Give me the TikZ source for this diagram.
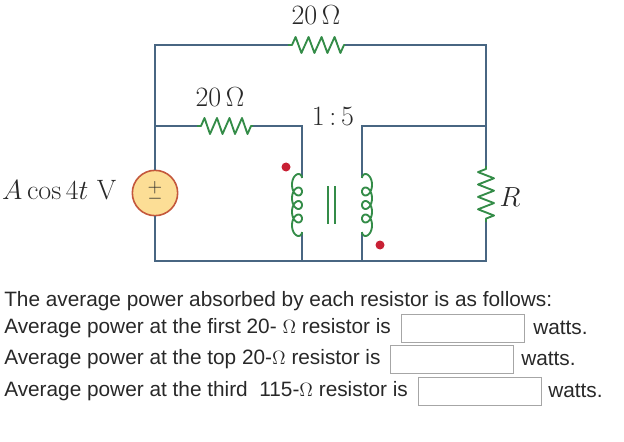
\documentclass[tikz,border=0pt]{standalone}
\usepackage{fontspec}
\setsansfont{Liberation Sans}
\usetikzlibrary{positioning}
\definecolor{wire}{RGB}{72,102,130}
\definecolor{res}{RGB}{52,140,72}
\definecolor{srcfill}{RGB}{252,222,150}
\definecolor{srcdraw}{RGB}{196,88,60}
\definecolor{dotred}{RGB}{200,32,52}
\definecolor{txt}{RGB}{40,40,40}
\tikzset{
  wire/.style={draw=wire, line width=1pt},
  resistor/.style={draw=res, line width=1.4pt, line join=round},
  coil/.style={draw=res, line width=1.4pt},
  lbl/.style={font=\fontsize{21}{21}\selectfont, text=txt},
  question/.style={font=\sffamily\fontsize{15.6}{17}\selectfont, text=txt, anchor=west, inner sep=0pt},
  answer/.style={draw=black!35, line width=0.6pt, minimum width=92pt, minimum height=21pt, inner sep=0pt},
}
\begin{document}
\begin{tikzpicture}[x=0.75pt, y=-0.75pt]
  \useasboundingbox (0,0) rectangle (624,442);
  % Corners of the circuit
  \coordinate (tl) at (155,45);
  \coordinate (tr) at (486,45);
  \coordinate (ml) at (155,126);
  \coordinate (mr) at (486,126);
  \coordinate (bl) at (155,261);
  \coordinate (br) at (486,261);
  \coordinate (r1a) at (197,126);
  \coordinate (r1b) at (253,126);
  \coordinate (r2a) at (288,45);
  \coordinate (r2b) at (345,45);
  \coordinate (ra) at (486,166);
  \coordinate (rb) at (486,222);
  \coordinate (pt) at (302,126);
  \coordinate (pa) at (302,178);
  \coordinate (pb) at (302,232);
  \coordinate (pd) at (302,261);
  \coordinate (st) at (362,126);
  \coordinate (sa) at (362,178);
  \coordinate (sb) at (362,232);
  \coordinate (sd) at (362,261);
  % Source
  \node[circle, draw=srcdraw, fill=srcfill, line width=1.2pt, minimum size=34pt, inner sep=0pt,
        font=\fontsize{15}{9}\selectfont, text=txt, align=center] (src) at (155,193) {$+$\\[-2pt]$-$};

  % Wires
  \draw[wire] (src) -- (tl) -- (r2a);
  \draw[wire] (r2b) -- (tr) -- (ra);
  \draw[wire] (rb) -- (br) -- (bl) -- (src);
  \draw[wire] (ml) -- (r1a);
  \draw[wire] (r1b) -- (pt) -- (pa);
  \draw[wire] (pb) -- (pd);
  \draw[wire] (mr) -- (st) -- (sa);
  \draw[wire] (sb) -- (sd);

  % Resistors
  \draw[resistor] (r1a) -- ++(4,0) \foreach \i in {1,...,4} {-- ++(3.5,-8) -- ++(5.5,16) -- ++(3.5,-8)} -- (r1b);
  \draw[resistor] (r2a) -- ++(4,0) \foreach \i in {1,...,4} {-- ++(3.6,-8) -- ++(5.8,16) -- ++(3.6,-8)} -- (r2b);
  \draw[resistor] (ra) -- ++(0,3) \foreach \i in {1,...,4} {-- ++(-8,3.1) -- ++(16,6.2) -- ++(-8,3.1)} -- (rb);

  % Transformer
  \draw[coil] plot[domain=0:1440, samples=200, smooth] ({302-5*(1-cos(\x))}, {178+\x/360*13.5-7*sin(\x)});
  \draw[coil] plot[domain=0:1440, samples=200, smooth] ({362+5*(1-cos(\x))}, {178+\x/360*13.5-7*sin(\x)});
  \draw[coil] (328,186) -- (328,224) (335,186) -- (335,224);
  \fill[dotred] (286,167) circle (4.5);
  \fill[dotred] (380,245) circle (4.5);

  % Labels
  \node[lbl] at (316,15) {20\,$\Omega$};
  \node[lbl] at (220,97) {20\,$\Omega$};
  \node[lbl] at (333,116) {1\,:\,5};
  \node[lbl, anchor=east] at (121,190) {$A\cos 4t$ V};
  \node[lbl, font=\fontsize{22}{22}\selectfont] at (510,197) {$R$};

  % Question text
  \node[question] at (4,301) {The average power absorbed by each resistor is as follows:};
  \node[question] at (4,328) {Average power at the first 20- $\Omega$ resistor is};
  \node[answer] at (463,328) {};
  \node[question] at (533,328) {watts.};
  \node[question] at (4,359) {Average power at the top 20-$\Omega$ resistor is};
  \node[answer] at (452,359) {};
  \node[question] at (521,359) {watts.};
  \node[question] at (4,391) {Average power at the third\ \ 115-$\Omega$ resistor is};
  \node[answer] at (480,391) {};
  \node[question] at (548,391) {watts.};
\end{tikzpicture}
\end{document}
